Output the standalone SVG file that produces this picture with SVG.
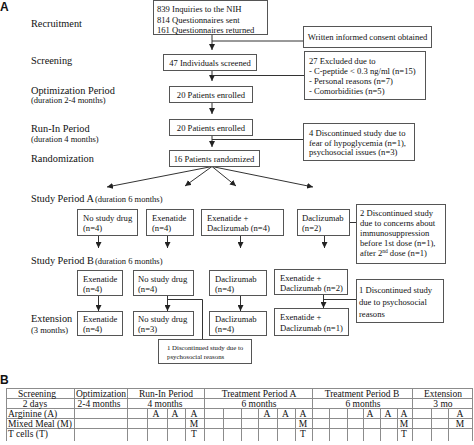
<svg xmlns="http://www.w3.org/2000/svg" width="474" height="445" viewBox="0 0 474 445">
<defs>
<marker id="ah" markerUnits="userSpaceOnUse" markerWidth="6" markerHeight="6" refX="6" refY="3" orient="auto">
<path d="M0,0 L6,3 L0,6 z" fill="#222"/>
</marker>
<style>
text{font-family:"Liberation Serif","Times New Roman",serif;fill:#111}
.lbl{font-size:10.3px}
.sub{font-size:8.5px}
.bt{font-size:8.6px}
.sm{font-size:6.8px}
.tb{font-size:9.5px}
.pl{font-family:"Liberation Sans",Arial,sans-serif;font-weight:bold;font-size:12px}
.box{fill:#fff;stroke:#555;stroke-width:1}
.ln{stroke:#333;stroke-width:1;fill:none}
.ar{marker-end:url(#ah)}
.g{stroke:#8c8c8c;stroke-width:1;fill:none}
.c{text-anchor:middle}
</style>
</defs>
<rect width="474" height="445" fill="#fff"/>
<text class="pl" x="0" y="11">A</text>
<g id="labels">
<text class="lbl" x="31" y="27">Recruitment</text>
<text class="lbl" x="31" y="64">Screening</text>
<text class="lbl" x="31" y="94">Optimization Period</text>
<text class="sub" x="31" y="103">(duration 2-4 months)</text>
<text class="lbl" x="31" y="132">Run-In Period</text>
<text class="sub" x="31" y="142">(duration 4 months)</text>
<text class="lbl" x="31" y="162">Randomization</text>
<text class="lbl" x="31" y="202">Study Period A<tspan class="sub" dx="1">(duration 6 months)</tspan></text>
<text class="lbl" x="31" y="264">Study Period B<tspan class="sub" dx="1">(duration 6 months)</tspan></text>
<text class="lbl" x="31" y="322">Extension</text>
<text class="sub" x="31" y="333">(3 months)</text>
</g>
<g id="connectors">
<path class="ln ar" d="M212,35 V50"/>
<path class="ln" d="M212,41 H303"/>
<path class="ln ar" d="M212,70.5 V81"/>
<path class="ln" d="M212,75.5 H304"/>
<path class="ln ar" d="M212,102.5 V114"/>
<path class="ln ar" d="M212,135.5 V147"/>
<path class="ln" d="M212,139.5 H303"/>
<path class="ln ar" d="M212,166.5 L107,187"/>
<path class="ln ar" d="M212,166.5 L185,186"/>
<path class="ln ar" d="M212,166.5 L236,186"/>
<path class="ln ar" d="M212,166.5 L313,187"/>
<path class="ln ar" d="M98.5,235.5 V248"/>
<path class="ln ar" d="M167.5,235.5 V248"/>
<path class="ln ar" d="M240.5,235.5 V248"/>
<path class="ln ar" d="M324.5,235.5 V248"/>
<path class="ln" d="M349.5,222.5 H356.5"/>
<path class="ln ar" d="M98.5,295.5 V311"/>
<path class="ln ar" d="M167.5,295.5 V311"/>
<path class="ln ar" d="M240.5,295.5 V311"/>
<path class="ln ar" d="M323.5,294.5 V308"/>
<path class="ln" d="M167.5,299.5 H202.5 V339.5"/>
<path class="ln" d="M323.5,299.5 H356.5"/>
</g>
<g id="recruit"><rect class="box" x="153.5" y="0.5" width="114" height="34"/>
<text class="bt" x="157" y="12">839 Inquiries to the NIH</text>
<text class="bt" x="157" y="22.5">814 Questionnaires sent</text>
<text class="bt" x="157" y="33">161 Questionnaires returned</text></g>
<g id="consent"><rect class="box" x="303.5" y="26.5" width="128" height="21"/>
<text class="bt c" x="367.5" y="40">Written informed consent obtained</text></g>
<g id="screened"><rect class="box" x="163.5" y="54.5" width="93" height="16"/>
<text class="bt c" x="210" y="65.5">47 Individuals screened</text></g>
<g id="excluded"><rect class="box" x="304.5" y="51.5" width="121" height="48"/>
<text class="bt" x="309" y="64">27 Excluded due to</text>
<text class="bt" x="309" y="74">- C-peptide &lt; 0.3 ng/ml (n=15)</text>
<text class="bt" x="309" y="84">- Personal reasons (n=7)</text>
<text class="bt" x="309" y="94">- Comorbidities (n=5)</text></g>
<g id="enrolled1"><rect class="box" x="169.5" y="86.5" width="83" height="16"/>
<text class="bt c" x="211" y="97.5">20 Patients enrolled</text></g>
<g id="enrolled2"><rect class="box" x="169.5" y="119.5" width="83" height="16"/>
<text class="bt c" x="211" y="130.5">20 Patients enrolled</text></g>
<g id="discont4"><rect class="box" x="303.5" y="123.5" width="111" height="37"/>
<text class="bt" x="309" y="136">4 Discontinued study due to</text>
<text class="bt" x="309" y="145.5">fear of hypoglycemia (n=1),</text>
<text class="bt" x="309" y="155">psychosocial issues (n=3)</text></g>
<g id="randomized"><rect class="box" x="169.5" y="150.5" width="90" height="16"/>
<text class="bt c" x="214" y="161.5">16 Patients randomized</text></g>
<g id="nsdA"><rect class="box" x="77.5" y="209.5" width="60" height="26"/>
<text class="bt" x="83" y="221">No study drug</text><text class="bt" x="83" y="231">(n=4)</text></g>
<g id="exA"><rect class="box" x="146.5" y="209.5" width="47" height="26"/>
<text class="bt" x="152" y="221">Exenatide</text><text class="bt" x="152" y="231">(n=4)</text></g>
<g id="exdacA"><rect class="box" x="201.5" y="209.5" width="82" height="26"/>
<text class="bt" x="207" y="221">Exenatide +</text><text class="bt" x="207" y="231">Daclizumab (n=4)</text></g>
<g id="dacA"><rect class="box" x="297.5" y="209.5" width="52" height="26"/>
<text class="bt" x="302" y="221">Daclizumab</text><text class="bt" x="302" y="231">(n=2)</text></g>
<g id="discont2"><rect class="box" x="356.5" y="204.5" width="89" height="59"/>
<text class="bt" x="360" y="216">2 Discontinued study</text>
<text class="bt" x="360" y="226">due to concerns about</text>
<text class="bt" x="360" y="236">immunosuppression</text>
<text class="bt" x="360" y="246">before 1st dose (n=1),</text>
<text class="bt" x="360" y="256">after 2<tspan font-size="5.5px" dy="-3">nd</tspan><tspan dy="3"> dose (n=1)</tspan></text></g>
<g id="exB"><rect class="box" x="77.5" y="270.5" width="45" height="25"/>
<text class="bt" x="83" y="282">Exenatide</text><text class="bt" x="83" y="292">(n=4)</text></g>
<g id="nsdB"><rect class="box" x="133.5" y="270.5" width="60" height="25"/>
<text class="bt" x="138" y="282">No study drug</text><text class="bt" x="138" y="292">(n=4)</text></g>
<g id="dacB"><rect class="box" x="209.5" y="270.5" width="57" height="25"/>
<text class="bt" x="215" y="282">Daclizumab</text><text class="bt" x="215" y="292">(n=4)</text></g>
<g id="exdacB"><rect class="box" x="274.5" y="269.5" width="73" height="25"/>
<text class="bt" x="280" y="281">Exenatide +</text><text class="bt" x="280" y="291">Daclizumab (n=2)</text></g>
<g id="discont1"><rect class="box" x="356.5" y="279.5" width="87" height="43"/>
<text class="bt" x="359" y="293">1 Discontinued study</text>
<text class="bt" x="359" y="305">due to psychosocial</text>
<text class="bt" x="359" y="316.5">reasons</text></g>
<g id="exE"><rect class="box" x="77.5" y="311.5" width="45" height="24"/>
<text class="bt" x="83" y="321.5">Exenatide</text><text class="bt" x="83" y="332">(n=4)</text></g>
<g id="nsdE"><rect class="box" x="133.5" y="311.5" width="60" height="24"/>
<text class="bt" x="138" y="321.5">No study drug</text><text class="bt" x="138" y="332">(n=3)</text></g>
<g id="dacE"><rect class="box" x="209.5" y="311.5" width="57" height="24"/>
<text class="bt" x="215" y="321.5">Daclizumab</text><text class="bt" x="215" y="332">(n=4)</text></g>
<g id="exdacE"><rect class="box" x="274.5" y="308.5" width="74" height="27"/>
<text class="bt" x="280" y="320">Exenatide +</text><text class="bt" x="280" y="331">Daclizumab (n=1)</text></g>
<g id="discontSmall"><rect class="box" x="158.5" y="339.5" width="93" height="24"/>
<text class="sm" x="167" y="350">1 Discontinued study due to</text>
<text class="sm" x="167" y="359">psychosocial reasons</text></g>
<text class="pl" x="0" y="384">B</text>
<g id="table">
<path class="g" d="M6,388.5 H473 M6,398.5 H473 M6,408.5 H473 M6,418.5 H473 M6,428.5 H473"/>
<path class="g" d="M6.5,388 V441 M74.5,388 V441 M127.5,388 V441 M204.5,388 V441 M312.5,388 V441 M412.5,388 V441 M472.5,388 V441"/>
<path class="g" d="M147.5,408 V441 M167.5,408 V441 M185.5,408 V441 M223.5,408 V441 M241.5,408 V441 M258.5,408 V441 M277.5,408 V441 M295.5,408 V441 M329.5,408 V441 M347.5,408 V441 M363.5,408 V441 M380.5,408 V441 M397.5,408 V441 M431.5,408 V441 M448.5,408 V441"/>
<text class="tb c" x="37" y="396.5">Screening</text>
<text class="tb c" x="101" y="396.5">Optimization</text>
<text class="tb c" x="166" y="396.5">Run-In Period</text>
<text class="tb c" x="259" y="396.5">Treatment Period A</text>
<text class="tb c" x="362" y="396.5">Treatment Period B</text>
<text class="tb c" x="443" y="396.5">Extension</text>
<text class="tb c" x="35" y="406.5">2 days</text>
<text class="tb c" x="99" y="406.5">2-4 months</text>
<text class="tb c" x="165" y="406.5">4 months</text>
<text class="tb c" x="259" y="406.5">6 months</text>
<text class="tb c" x="363" y="406.5">6 months</text>
<text class="tb c" x="443" y="406.5">3 mo</text>
<text class="tb" x="8" y="416.5">Arginine (A)</text>
<text class="tb" x="8" y="426.5">Mixed Meal (M)</text>
<text class="tb" x="8" y="436.5">T cells (T)</text>
<g class="tb c">
<text class="tb c" x="156" y="416.5">A</text><text class="tb c" x="175" y="416.5">A</text><text class="tb c" x="194" y="416.5">A</text>
<text class="tb c" x="194" y="426.5">M</text><text class="tb c" x="194" y="436.5">T</text>
<text class="tb c" x="267" y="416.5">A</text><text class="tb c" x="285.5" y="416.5">A</text><text class="tb c" x="303" y="416.5">A</text>
<text class="tb c" x="303" y="426.5">M</text><text class="tb c" x="303" y="436.5">T</text>
<text class="tb c" x="370" y="416.5">A</text><text class="tb c" x="388" y="416.5">A</text><text class="tb c" x="404" y="416.5">A</text>
<text class="tb c" x="404" y="426.5">M</text><text class="tb c" x="404" y="436.5">T</text>
<text class="tb c" x="460" y="416.5">A</text><text class="tb c" x="460" y="426.5">M</text>
</g>
</g>
</svg>
